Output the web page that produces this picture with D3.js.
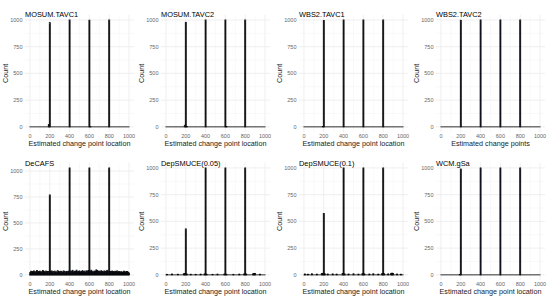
<!DOCTYPE html>
<html>
<head>
<meta charset="utf-8">
<script src="https://cdn.jsdelivr.net/npm/d3@7"></script>
<style>
  body { margin: 0; background: #fff; }
  svg { display: block; font-family: "Liberation Sans", Arial, sans-serif; }
</style>
</head>
<body>
<div id="chart"></div>
<script>
// histogram bins: [bin centre, count], binwidth 10
const titles = ['MOSUM.TAVC1', 'MOSUM.TAVC2', 'WBS2.TAVC1', 'WBS2.TAVC2',
                'DeCAFS', 'DepSMUCE(0.05)', 'DepSMUCE(0.1)', 'WCM.gSa'];
const xLabels = ['Estimated change point location', 'Estimated change point location',
                 'Estimated change point location', 'Estimated change points',
                 'Estimated change point location', 'Estimated change point location',
                 'Estimated change point location', 'Estimated change point location'];
const xTicks = [0, 200, 400, 600, 800, 1000];
const yTicks = [0, 250, 500, 750, 1000];

const mosum1 = [[190, 22], [200, 975], [400, 1000], [600, 998], [610, 2], [800, 1000]];
const mosum2 = [[190, 15], [200, 978], [210, 4], [400, 1000], [600, 1000], [610, 3], [800, 1000]];
const wbs1 = [[190, 4], [200, 995], [400, 1000], [600, 1000], [800, 1000]];
const wbs2 = [[200, 997], [400, 1000], [600, 1000], [800, 1000]];
const decafs = [
  [0, 20], [10, 35], [20, 28], [30, 32], [40, 38], [50, 25], [60, 30], [70, 41], [80, 27], [90, 33],
  [100, 36], [110, 24], [120, 30], [130, 43], [140, 32], [150, 26], [160, 37], [170, 29], [180, 34], [190, 30],
  [200, 770], [210, 33], [220, 38], [230, 27], [240, 31], [250, 36], [260, 25], [270, 29], [280, 40], [290, 33],
  [300, 28], [310, 35], [320, 30], [330, 26], [340, 38], [350, 31], [360, 27], [370, 34], [380, 29], [390, 36],
  [400, 1030], [410, 37], [420, 30], [430, 44], [440, 28], [450, 35], [460, 32], [470, 45], [480, 29], [490, 34],
  [500, 38], [510, 27], [520, 33], [530, 40], [540, 30], [550, 36], [560, 26], [570, 39], [580, 31], [590, 42],
  [600, 1030], [610, 35], [620, 45], [630, 30], [640, 28], [650, 37], [660, 33], [670, 48], [680, 42], [690, 31],
  [700, 36], [710, 29], [720, 40], [730, 33], [740, 27], [750, 38], [760, 31], [770, 35], [780, 44], [790, 30],
  [800, 1030], [810, 34], [820, 29], [830, 37], [840, 32], [850, 26], [860, 35], [870, 30], [880, 38], [890, 28],
  [900, 33], [910, 25], [920, 31], [930, 22], [940, 29], [950, 36], [960, 24], [970, 30], [980, 33], [990, 27],
  [1000, 18]];
const depsmuce05 = [[10, 5], [60, 8], [120, 6], [180, 10], [190, 12], [200, 430], [210, 8], [250, 6], [300, 5],
  [350, 7], [390, 9], [400, 1000], [410, 6], [470, 5], [520, 7], [590, 8], [600, 1000], [610, 6], [680, 5],
  [740, 7], [790, 9], [800, 1000], [810, 8], [880, 10], [890, 14], [900, 12], [950, 6]];
const depsmuce01 = [[10, 8], [40, 6], [80, 10], [130, 7], [180, 12], [190, 14], [200, 575], [210, 10], [240, 8],
  [290, 9], [330, 7], [390, 12], [400, 1000], [410, 9], [450, 8], [500, 10], [550, 7], [590, 11], [600, 1000],
  [610, 9], [660, 8], [700, 10], [750, 7], [790, 12], [800, 1000], [810, 10], [850, 9], [880, 14], [890, 16],
  [900, 12], [940, 8], [980, 6]];
const wcm = [[190, 3], [200, 990], [400, 1000], [600, 1000], [800, 1000]];

const series = [mosum1, mosum2, wbs1, wbs2, decafs, depsmuce05, depsmuce01, wcm];

const width = 550, height = 298;
const svg = d3.select('#chart').append('svg')
  .attr('width', width)
  .attr('height', height);

const panelLeft = [25, 161, 299, 436];
const panelW = 109;
const rowTop = [14.6, 162.6];
const panelH = 117.6;

series.forEach((bins, i) => {
  const col = i % 4, row = Math.floor(i / 4);
  const left = panelLeft[col], top = rowTop[row];
  const maxY = d3.max(bins, d => d[1]);

  const x = d3.scaleLinear().domain([-50, 1050]).range([left, left + panelW]);
  const y = d3.scaleLinear().domain([-0.05 * maxY, 1.05 * maxY]).range([top + panelH, top]);

  const g = svg.append('g');

  // grid (minor then major)
  const xMinor = d3.range(100, 1000, 200);
  const yMinor = d3.range(125, maxY * 1.05, 250);
  g.selectAll('.xminor').data(xMinor).enter().append('line')
    .attr('x1', d => x(d)).attr('x2', d => x(d))
    .attr('y1', top).attr('y2', top + panelH)
    .attr('stroke', '#f3f3f3').attr('stroke-width', 0.5);
  g.selectAll('.yminor').data(yMinor).enter().append('line')
    .attr('x1', left).attr('x2', left + panelW)
    .attr('y1', d => y(d)).attr('y2', d => y(d))
    .attr('stroke', '#f3f3f3').attr('stroke-width', 0.5);
  g.selectAll('.xmajor').data(xTicks).enter().append('line')
    .attr('x1', d => x(d)).attr('x2', d => x(d))
    .attr('y1', top).attr('y2', top + panelH)
    .attr('stroke', '#ebebeb').attr('stroke-width', 0.8);
  g.selectAll('.ymajor').data(yTicks).enter().append('line')
    .attr('x1', left).attr('x2', left + panelW)
    .attr('y1', d => y(d)).attr('y2', d => y(d))
    .attr('stroke', '#ebebeb').attr('stroke-width', 0.8);

  // empty bins show as a flat outline along zero
  g.append('line')
    .attr('x1', x(-5)).attr('x2', x(1005))
    .attr('y1', y(0)).attr('y2', y(0))
    .attr('stroke', '#000').attr('stroke-width', 0.8);

  g.selectAll('rect').data(bins).enter().append('rect')
    .attr('x', d => x(d[0] - 5))
    .attr('width', d => x(d[0] + 5) - x(d[0] - 5))
    .attr('y', d => y(d[1]))
    .attr('height', d => y(0) - y(d[1]))
    .attr('fill', '#1c2541')
    .attr('stroke', '#000')
    .attr('stroke-width', 0.8);

  // tick labels
  g.selectAll('.xt').data(xTicks).enter().append('text')
    .attr('x', d => x(d)).attr('y', top + panelH + 6)
    .attr('text-anchor', 'middle')
    .attr('font-size', 5.5).attr('fill', '#666')
    .text(d => d);
  g.selectAll('.yt').data(yTicks).enter().append('text')
    .attr('x', left - 2.5).attr('y', d => y(d) + 2)
    .attr('text-anchor', 'end')
    .attr('font-size', 5.5).attr('fill', '#666')
    .text(d => d);

  // titles
  g.append('text')
    .attr('x', left).attr('y', row === 0 ? 17 : 165.5)
    .attr('font-size', 7.4).attr('fill', '#000')
    .text(titles[i]);
  g.append('text')
    .attr('x', left + panelW / 2).attr('y', top + panelH + 14)
    .attr('text-anchor', 'middle')
    .attr('font-size', 7.2).attr('fill', '#222')
    .text(xLabels[i]);
  const cy = top + panelH / 2;
  g.append('text')
    .attr('transform', `translate(${left - 17},${cy}) rotate(-90)`)
    .attr('text-anchor', 'middle')
    .attr('font-size', 7.2).attr('fill', '#222')
    .text('Count');
});
</script>
</body>
</html>
